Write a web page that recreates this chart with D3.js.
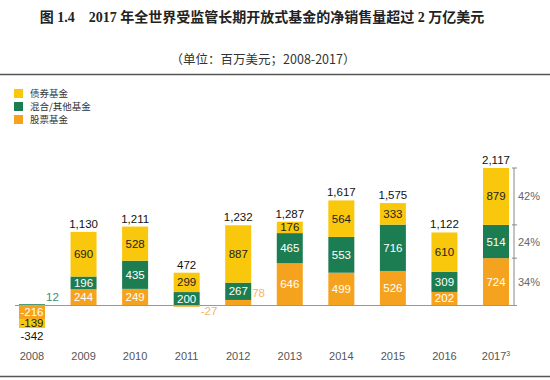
<!DOCTYPE html>
<html><head><meta charset="utf-8">
<script src="https://cdn.jsdelivr.net/npm/d3@7"></script>
<style>body{margin:0;background:#fff}svg{display:block}</style>
</head><body>
<svg id="c" width="550" height="380"></svg>
<script>
const years = ["2008","2009","2010","2011","2012","2013","2014","2015","2016","2017"];
const equity = [-216,244,249,-27,78,646,499,526,202,724];
const mixed  = [12,196,435,200,267,465,553,716,309,514];
const bond   = [-139,690,528,299,887,176,564,333,610,879];
const totals = ["-342","1,130","1,211","472","1,232","1,287","1,617","1,575","1,122","2,117"];
const shares2017 = ["34%","24%","42%"];
const seriesNames = ["债券基金","混合/其他基金","股票基金"];
const title = "图 1.4　2017 年全世界受监管长期开放式基金的净销售量超过 2 万亿美元";
const subtitle = "（单位：百万美元；2008-2017）";

const C = {bond:"#f9c70c", mixed:"#1d7d52", equity:"#f5a31f"};
const svg = d3.select("#c");
const font = "'Liberation Sans', Arial, sans-serif";
const cjk = "'Noto Sans CJK SC', sans-serif";

svg.append("text").attr("x",262).attr("y",22).attr("text-anchor","middle")
  .attr("font-family","'Liberation Serif','Noto Sans CJK SC',serif").attr("font-weight","bold")
  .attr("font-size",14).attr("fill","#222").text(title);
svg.append("text").attr("x",263).attr("y",64).attr("text-anchor","middle")
  .attr("font-family",cjk).attr("font-size",12.5).attr("fill","#333").text(subtitle);
svg.append("line").attr("x1",0).attr("x2",550).attr("y1",74.5).attr("y2",74.5).attr("stroke","#555").attr("stroke-width",1.5);
svg.append("line").attr("x1",0).attr("x2",550).attr("y1",376.5).attr("y2",376.5).attr("stroke","#555").attr("stroke-width",1.5);

// legend
const lg = svg.append("g");
[C.bond,C.mixed,C.equity].forEach((c,i)=>{
  lg.append("rect").attr("x",14).attr("y",89+i*13).attr("width",9).attr("height",9).attr("fill",c);
  lg.append("text").attr("x",30).attr("y",97+i*13).attr("font-family",cjk).attr("font-size",9.5).attr("fill","#333").text(seriesNames[i]);
});

const x = d3.scalePoint().domain(years).range([32,496]);
const y = d3.scaleLinear().domain([0,2117]).range([305,168]);
const bw = 26;

// baseline
svg.append("line").attr("x1",15).attr("x2",517).attr("y1",y(0)+0.5).attr("y2",y(0)+0.5).attr("stroke","#999").attr("stroke-width",1.2);

const g = svg.append("g");
years.forEach((yr,i)=>{
  const cx = x(yr);
  let pos = 0, neg = 0;
  const segs = [["equity",equity[i]],["mixed",mixed[i]],["bond",bond[i]]];
  const drawn = [];
  segs.forEach(([k,v])=>{
    let y0,y1;
    if(v>=0){y0=pos;y1=pos+v;pos=y1;} else {y0=neg;y1=neg+v;neg=y1;}
    const top = y(Math.max(y0,y1)), bot = y(Math.min(y0,y1));
    g.append("rect").attr("x",cx-bw/2).attr("y",top).attr("width",bw).attr("height",bot-top).attr("fill",C[k]);
    drawn.push({k,v,top,bot});
  });
  drawn.forEach(d=>{
    const h = d.bot-d.top;
    if(h>=8){
      g.append("text").attr("x",cx).attr("y",(d.top+d.bot)/2+4).attr("text-anchor","middle")
        .attr("font-family",font).attr("font-size",11.5)
        .attr("fill", d.k==="bond" ? "#222" : "#fff").text(d.v);
    } else {
      const col = d.k==="mixed" ? "#3c8b7c" : "#f3b562";
      const ly = d.v<0 ? d.bot+8 : d.top-3;
      g.append("text").attr("x",cx+bw/2+1).attr("y",ly).attr("text-anchor","start")
        .attr("font-family",font).attr("font-size",11.5).attr("fill",col).text(d.v);
    }
  });
  const tot = pos+neg;
  const ty = tot>=0 ? y(pos)-4 : y(neg)+12;
  g.append("text").attr("x",cx).attr("y",ty).attr("text-anchor","middle")
    .attr("font-family",font).attr("font-size",11.5).attr("fill","#111").text(totals[i]);
  const lab = g.append("text").attr("x",cx).attr("y",360).attr("text-anchor","middle")
    .attr("font-family",font).attr("font-size",11).attr("fill","#555").text(yr);
  if(yr==="2017") lab.append("tspan").attr("font-size",7).attr("dy",-4).text("3");
});

// 2017 bracket
const i17 = years.length-1;
const bx = 514;
const cum = [0, equity[i17], equity[i17]+mixed[i17], equity[i17]+mixed[i17]+bond[i17]];
svg.append("line").attr("x1",bx).attr("x2",bx).attr("y1",y(cum[3])).attr("y2",y(0)).attr("stroke","#888").attr("stroke-width",1);
cum.slice(1).forEach(v=>{
  svg.append("line").attr("x1",bx-2).attr("x2",bx+3).attr("y1",y(v)).attr("y2",y(v)).attr("stroke","#888").attr("stroke-width",1);
});
shares2017.forEach((s,j)=>{
  svg.append("text").attr("x",518).attr("y",(y(cum[j])+y(cum[j+1]))/2+4)
    .attr("font-family",font).attr("font-size",11).attr("fill","#666").text(s);
});
</script>
</body></html>
